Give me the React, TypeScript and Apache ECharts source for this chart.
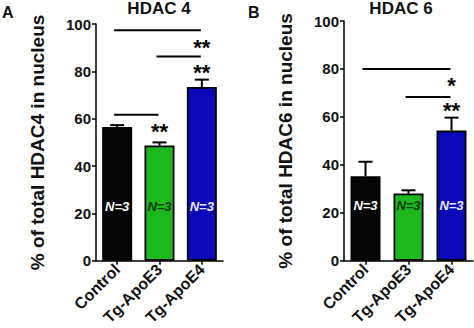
import React, { useEffect, useRef } from "react";
import * as echarts from "echarts";

const categories = ["Control", "Tg-ApoE3", "Tg-ApoE4"];
const hdac4Mean = [56.5, 48.7, 73.4];
const hdac4Err = [0.8, 1.3, 3.1];
const hdac6Mean = [35.3, 28.1, 54.3];
const hdac6Err = [6.0, 1.3, 5.4];
const nLabels = ["N=3", "N=3", "N=3"];
const yTicks = [0, 20, 40, 60, 80, 100];

// significance brackets: [fromCategory, toCategory, value]
const hdac4Brackets = [
  [0, 2, 97.4],
  [1, 2, 86.3],
  [0, 1, 61.7],
];
const hdac6Brackets = [
  [0, 2, 80],
  [1, 2, 68.3],
];
// stars: [category, value, text]
const hdac4Stars: [number, number, string][] = [
  [2, 91.8, "**"],
  [2, 81.2, "**"],
  [1, 56.2, "**"],
];
const hdac6Stars: [number, number, string][] = [
  [2, 74.8, "*"],
  [2, 64.3, "**"],
];

const barColors = ["#050505", "#1cb81c", "#0a0ab8"];
const nColors = ["#ffffff", "#0b3d0b", "#e6e6ff"];
const FONT = "'Liberation Sans', Arial, Helvetica, sans-serif";

function makePanel(idx: number, means: number[], errs: number[], brackets: number[][], stars: [number, number, string][]) {
  const barSeries = {
    type: "bar",
    xAxisIndex: idx,
    yAxisIndex: idx,
    barWidth: 30,
    data: means.map((v, i) => ({
      value: v,
      itemStyle: { color: barColors[i], borderColor: "#000", borderWidth: 1.8 },
    })),
    z: 2,
  };
  const errSeries = {
    type: "custom",
    xAxisIndex: idx,
    yAxisIndex: idx,
    data: means.map((m, i) => [i, m, errs[i]]),
    encode: { x: 0, y: 1 },
    z: 3,
    renderItem: (params: any, api: any) => {
      const c = api.value(0);
      const m = api.value(1);
      const e = api.value(2);
      const base = api.coord([c, m]);
      const top = api.coord([c, m + e]);
      return {
        type: "group",
        children: [
          { type: "line", shape: { x1: base[0], y1: base[1], x2: top[0], y2: top[1] }, style: { stroke: "#000", lineWidth: 2 } },
          { type: "line", shape: { x1: top[0] - 7, y1: top[1], x2: top[0] + 7, y2: top[1] }, style: { stroke: "#000", lineWidth: 2 } },
        ],
      };
    },
  };
  const nSeries = {
    type: "custom",
    xAxisIndex: idx,
    yAxisIndex: idx,
    data: nLabels.map((t, i) => [i, 23]),
    encode: { x: 0, y: 1 },
    z: 4,
    renderItem: (params: any, api: any) => {
      const p = api.coord([api.value(0), api.value(1)]);
      return {
        type: "text",
        x: p[0],
        y: p[1],
        style: {
          text: nLabels[params.dataIndex],
          fill: nColors[params.dataIndex],
          fontFamily: FONT,
          fontSize: 13,
          fontWeight: "bold",
          fontStyle: "italic",
          align: "center",
          verticalAlign: "middle",
        },
      };
    },
  };
  const bracketSeries = {
    type: "custom",
    xAxisIndex: idx,
    yAxisIndex: idx,
    data: brackets,
    encode: { x: 0, y: 2 },
    z: 5,
    clip: false,
    renderItem: (params: any, api: any) => {
      const a = api.coord([api.value(0), api.value(2)]);
      const b = api.coord([api.value(1), api.value(2)]);
      return {
        type: "line",
        shape: { x1: a[0] - 3, y1: a[1], x2: b[0] - 1, y2: b[1] },
        style: { stroke: "#000", lineWidth: 2 },
      };
    },
  };
  const starSeries = {
    type: "custom",
    xAxisIndex: idx,
    yAxisIndex: idx,
    data: stars.map((s) => [s[0], s[1]]),
    encode: { x: 0, y: 1 },
    z: 5,
    clip: false,
    renderItem: (params: any, api: any) => {
      const p = api.coord([api.value(0), api.value(1)]);
      return {
        type: "text",
        x: p[0],
        y: p[1] + 4,
        style: {
          text: stars[params.dataIndex][2],
          fill: "#000",
          fontFamily: FONT,
          fontSize: 22,
          fontWeight: "bold",
          align: "center",
          verticalAlign: "middle",
        },
      };
    },
  };
  return [barSeries, errSeries, nSeries, bracketSeries, starSeries];
}

export default function App() {
  const ref = useRef<HTMLDivElement>(null);
  useEffect(() => {
    if (!ref.current) return;
    const chart = echarts.init(ref.current, null, { renderer: "svg" });
    const axisLabelStyle = { color: "#111", fontFamily: FONT, fontWeight: "bold" };
    const xAxis = (gi: number) => ({
      type: "category",
      gridIndex: gi,
      data: categories,
      axisLine: { lineStyle: { color: "#000", width: 1.5 } },
      axisTick: { show: true, alignWithLabel: true, length: 4, lineStyle: { color: "#000", width: 1.5 } },
      axisLabel: { ...axisLabelStyle, fontSize: 16, rotate: 45, margin: 6, interval: 0 },
    });
    const yAxis = (gi: number, name: string) => ({
      type: "value",
      gridIndex: gi,
      min: 0,
      max: 100,
      interval: 20,
      name,
      nameLocation: "middle",
      nameGap: 49,
      nameTextStyle: { color: "#111", fontFamily: FONT, fontWeight: "bold", fontSize: 19 },
      splitLine: { show: false },
      axisLine: { show: true, lineStyle: { color: "#000", width: 1.5 } },
      axisTick: { show: true, length: 4, lineStyle: { color: "#000", width: 1.5 } },
      axisLabel: {
        ...axisLabelStyle,
        fontSize: 15,
        margin: 5,
        formatter: (v: number) => (yTicks.includes(v) ? String(v) : ""),
      },
    });
    chart.setOption({
      animation: false,
      backgroundColor: "#fff",
      grid: [
        { left: 96, right: 251, top: 24, bottom: 67 },
        { left: 344, right: 1, top: 21, bottom: 66 },
      ],
      xAxis: [xAxis(0), xAxis(1)],
      yAxis: [yAxis(0, "% of total HDAC4 in nucleus"), yAxis(1, "% of total HDAC6 in nucleus")],
      graphic: [
        { type: "text", left: 2, top: 4, style: { text: "A", fontFamily: FONT, fontWeight: "bold", fontSize: 16, fill: "#111" } },
        { type: "text", left: 248, top: 4, style: { text: "B", fontFamily: FONT, fontWeight: "bold", fontSize: 16, fill: "#111" } },
        { type: "text", x: 159, y: 0, style: { text: "HDAC 4", align: "center", fontFamily: FONT, fontWeight: "bold", fontSize: 17, fill: "#111" } },
        { type: "text", x: 401, y: 0, style: { text: "HDAC 6", align: "center", fontFamily: FONT, fontWeight: "bold", fontSize: 17, fill: "#111" } },
      ],
      series: [
        ...makePanel(0, hdac4Mean, hdac4Err, hdac4Brackets, hdac4Stars),
        ...makePanel(1, hdac6Mean, hdac6Err, hdac6Brackets, hdac6Stars),
      ],
    });
    return () => chart.dispose();
  }, []);
  return <div ref={ref} style={{ width: 474, height: 328, position: "absolute", left: 0, top: 0 }} />;
}
